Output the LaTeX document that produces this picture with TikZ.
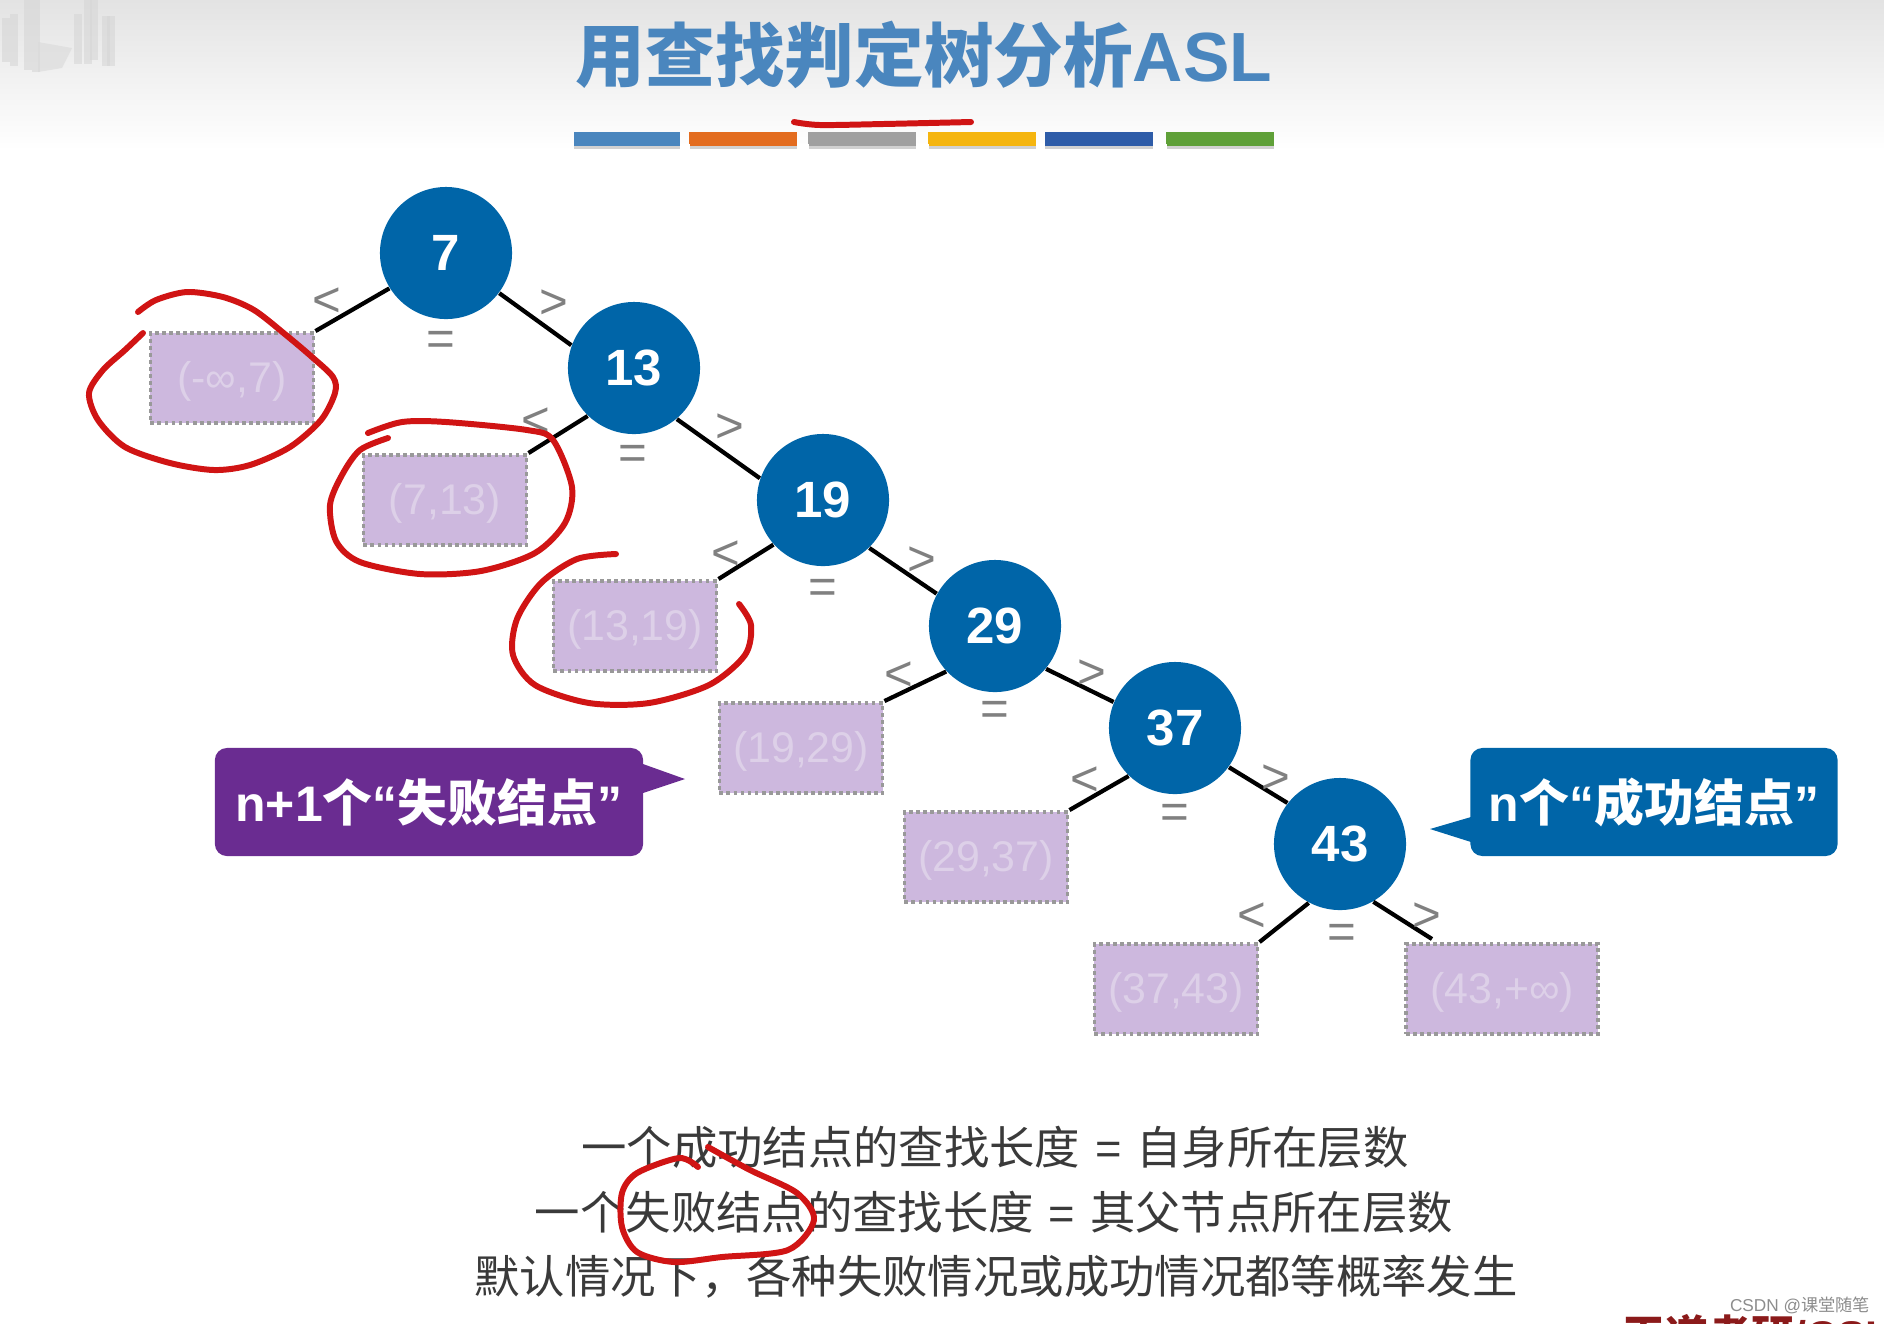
\documentclass[tikz,border=0pt]{standalone}
\usepackage{fontspec}
\setmainfont{Liberation Sans}
\newfontfamily\cjk{Noto Sans CJK SC}
\usetikzlibrary{positioning}
\definecolor{nodeblue}{HTML}{0065A8}
\definecolor{calloutpurple}{HTML}{6A2C91}
\definecolor{failfill}{HTML}{CDB8DE}
\definecolor{failtext}{HTML}{DDD0E8}
\definecolor{titleblue}{HTML}{4A86BE}
\definecolor{inkred}{HTML}{D01414}
\definecolor{bodygray}{HTML}{3A3A3A}
\definecolor{barorange}{HTML}{E36C1F}
\definecolor{bargray}{HTML}{A0A0A0}
\definecolor{baryellow}{HTML}{F5B50F}
\definecolor{barblue}{HTML}{2E5CA8}
\definecolor{bargreen}{HTML}{5FA038}
\definecolor{brandred}{HTML}{8B1A1A}
\tikzset{
  okay/.style={circle,fill=nodeblue,text=white,minimum size=1.32cm,inner sep=0pt,font=\fontsize{14.5}{16}\selectfont\bfseries},
  failbox/.style={rectangle,fill=failfill,draw=gray!80,dash pattern=on 1.1pt off 0.9pt,line width=1.1pt,minimum width=1.63cm,minimum height=0.9cm,inner sep=0pt,text=failtext,text height=0.88em,text depth=0.05em,font=\fontsize{12.2}{14}\selectfont},
  branch/.style={black,line width=1.2pt},
  cmp/.style={text=gray,inner sep=0pt,yshift=-1.2pt,font=\fontsize{14}{15}\selectfont},
  talk/.style={rounded corners=0.12cm,text=white,inner sep=0pt,minimum height=1.08cm,font=\fontsize{14.2}{16}\selectfont\bfseries},
  ink/.style={inkred,line width=1.7pt,line cap=round,line join=round},
  bar/.style={minimum height=0.14cm,inner sep=0pt},
  body/.style={text=bodygray,inner sep=0pt,font=\fontsize{12.9}{15}\selectfont}
}
\newcommand{\eqgap}{\hspace{0.05em}=\hspace{0.05em}}
\begin{document}
\begin{tikzpicture}[x=0.01cm,y=-0.01cm]
  \useasboundingbox (0,0) rectangle (1884,1323);
  \clip (0,0) rectangle (1884,1323);
  \shade[top color=black!11,bottom color=white] (0,0) rectangle (1884,150);
  % faint mark top left
  \foreach \xa/\ya/\yb in {6/18/62,14/14/66,28/0/70,36/0/72,78/14/64,88/0/64,94/0/60,106/16/66,111/16/66}
    \draw[black!16,line width=2pt,opacity=.6] (\xa,\ya) -- (\xa,\yb);
  \fill[black!15,opacity=.6] (38,42) -- (72,48) -- (62,68) -- (38,72) -- cycle;

  % title
  \node[text=titleblue,inner sep=0pt,font=\fontsize{19.8}{22}\selectfont\bfseries] (head) at (924,55) {{\cjk 用查找判定树分析}ASL};
  \fill[black!18] (574,144) rectangle (1274,149);
  \node[bar,fill=titleblue,minimum width=1.06cm] (bar1) at (627,139) {};
  \node[bar,fill=barorange,minimum width=1.07cm] (bar2) at (743,139) {};
  \node[bar,fill=bargray,minimum width=1.07cm] (bar3) at (862,139) {};
  \node[bar,fill=baryellow,minimum width=1.07cm] (bar4) at (982,139) {};
  \node[bar,fill=barblue,minimum width=1.08cm] (bar5) at (1099,139) {};
  \node[bar,fill=bargreen,minimum width=1.07cm] (bar6) at (1220,139) {};
  \fill[white] (680,144) rectangle (690,149);
  \fill[white] (797,144) rectangle (809,149);
  \fill[white] (916,144) rectangle (929,149);
  \fill[white] (1036,144) rectangle (1045,149);
  \fill[white] (1153,144) rectangle (1167,149);

  % found nodes
  \node[okay] (n7) at (446,253) {7};
  \node[okay] (n13) at (634,368) {13};
  \node[okay] (n19) at (823,500) {19};
  \node[okay] (n29) at (995,626) {29};
  \node[okay] (n37) at (1175,728) {37};
  \node[okay] (n43) at (1340,844) {43};

  % failure nodes
  \node[failbox] (b7) at (232,378) {(-∞,7)};
  \node[failbox] (b13) at (445,500) {(7,13)};
  \node[failbox] (b19) at (635,626) {(13,19)};
  \node[failbox] (b29) at (801,748) {(19,29)};
  \node[failbox] (b37) at (986,857) {(29,37)};
  \node[failbox] (b43) at (1176,989) {(37,43)};
  \node[failbox,minimum width=1.92cm] (bend) at (1502,989) {(43,+∞)};
  \coordinate (bendtop) at (1432,939);

  \draw[branch] (n7.-37) -- (n13.160);
  \draw[branch] (n13.-50) -- (n19.161);
  \draw[branch] (n19.-46) -- (n29.151);
  \draw[branch] (n29.-40) -- (n37.157);
  \draw[branch] (n37.-36) -- (n43.142);
  \draw[branch] (n7.212) -- (b7.north east);
  \draw[branch] (n13.226) -- (b13.north east);
  \draw[branch] (n19.222) -- (b19.north east);
  \draw[branch] (n29.223) -- (b29.north east);
  \draw[branch] (n37.226) -- (b37.north east);
  \draw[branch] (n43.242) -- (b43.north east);
  \draw[branch] (n43.-60) -- (bendtop);

  % comparison marks
  \node[cmp] (lt7) at (327,298) {<};
  \node[cmp] (gt7) at (554,300) {>};
  \node[cmp] (eq7) at (441,339) {=};
  \node[cmp] (lt13) at (536,418) {<};
  \node[cmp] (gt13) at (730,424) {>};
  \node[cmp] (eq13) at (633,453) {=};
  \node[cmp] (lt19) at (726,551) {<};
  \node[cmp] (gt19) at (922,557) {>};
  \node[cmp] (eq19) at (823,587) {=};
  \node[cmp] (lt29) at (899,672) {<};
  \node[cmp] (gt29) at (1092,670) {>};
  \node[cmp] (eq29) at (995,709) {=};
  \node[cmp] (lt37) at (1085,777) {<};
  \node[cmp] (gt37) at (1276,775) {>};
  \node[cmp] (eq37) at (1175,812) {=};
  \node[cmp] (lt43) at (1252,913) {<};
  \node[cmp] (gt43) at (1427,913) {>};
  \node[cmp] (eq43) at (1342,932) {=};

  % callouts
  \node[talk,fill=calloutpurple,minimum width=4.28cm] (failtalk) at (429,802) {n+1{\cjk 个}“{\cjk 失败结点}”};
  \coordinate (failtip) at (685,779);
  \fill[calloutpurple] (643,764) -- (failtip) -- (643,793) -- cycle;
  \node[talk,fill=nodeblue,minimum width=3.67cm] (oktalk) at (1654,802) {n{\cjk 个}“{\cjk 成功结点}”};
  \coordinate (oktip) at (1430,829);
  \fill[nodeblue] (1471,817) -- (oktip) -- (1471,842) -- cycle;

  % notes below
  \node[body] (line1) at (995,1147) {{\cjk 一个成功结点的查找长度} \eqgap{} {\cjk 自身所在层数}};
  \node[body] (line2) at (994,1212) {{\cjk 一个失败结点的查找长度} \eqgap{} {\cjk 其父节点所在层数}};
  \node[body] (line3) at (996,1277) {\cjk 默认情况下，各种失败情况或成功情况都等概率发生};
  \node[anchor=north west,text=brandred,inner sep=0pt,font=\fontsize{12.2}{15}\selectfont\bfseries] (brand) at (1622,1314) {{\cjk 王道考研}/CSK};
  \node[text=gray!90,inner sep=0pt,font=\fontsize{4.9}{6}\selectfont] (mark) at (1800,1305) {CSDN @{\cjk 课堂随笔}};

  % red pen
  \draw[ink] plot[smooth] coordinates {(794,122) (820,125) (883,124) (971,122)};
  \draw[ink] plot[smooth] coordinates {(138,312) (156,300) (187,292) (223,297) (254,310) (286,335) (312,357) (333,377) (335,393) (321,420) (290,447) (250,465) (214,470) (170,463) (125,447) (98,420) (89,393) (103,370) (125,350) (143,333)};
  \draw[ink] plot[smooth] coordinates {(368,433) (402,422) (446,422) (527,430) (553,440) (572,487) (565,523) (535,553) (481,571) (420,574) (360,562) (336,541) (330,505) (342,475) (360,450) (388,438)};
  \draw[ink] plot[smooth] coordinates {(616,554) (577,559) (541,583) (517,619) (513,655) (535,685) (589,703) (649,703) (709,685) (745,655) (751,625) (739,604)};
  \draw[ink] plot[smooth] coordinates {(708,1147) (750,1170) (797,1193) (814,1220) (788,1250) (722,1257) (674,1262) (637,1252) (622,1227) (622,1193) (637,1173) (679,1158) (698,1167)};
\end{tikzpicture}
\end{document}
